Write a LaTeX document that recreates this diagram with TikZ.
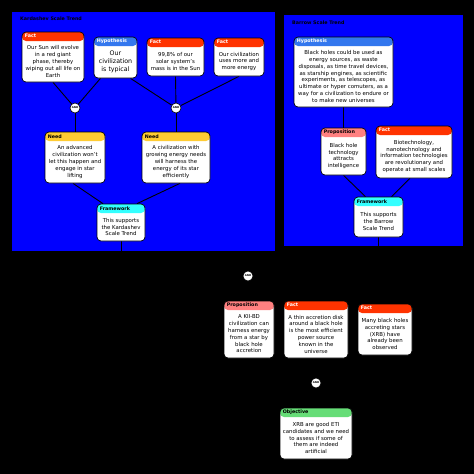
\documentclass[tikz,border=0pt]{standalone}
\usepackage{fontspec}
\setmainfont{DejaVu Sans}
\usepackage{xcolor}
\usepackage{tikz}
\pgfdeclarelayer{panels}
\pgfdeclarelayer{links}
\pgfsetlayers{panels,links,main}
\definecolor{panelblue}{RGB}{0,0,255}
\definecolor{factred}{RGB}{255,51,0}
\definecolor{hypblue}{RGB}{51,119,238}
\definecolor{needyellow}{RGB}{255,204,51}
\definecolor{framecyan}{RGB}{51,255,255}
\definecolor{proppink}{RGB}{255,128,128}
\definecolor{objgreen}{RGB}{102,221,119}
\tikzset{
card/.style = {rectangle, draw=black, fill=white, line width=0.7pt,
               rounded corners=4pt, inner sep=0pt},
headtext/.style = {anchor=west, inner sep=0pt,
                   font=\fontsize{4.8}{6}\selectfont\bfseries},
bodytext/.style = {align=center, inner sep=0pt,
                   font=\fontsize{5.4}{6.8}\selectfont},
andgate/.style = {circle, draw=black, fill=white, line width=0.6pt,
                  minimum size=10pt, inner sep=0pt,
                  font=\fontsize{2.6}{3}\selectfont\bfseries},
title/.style = {anchor=west, inner sep=0pt,
                font=\fontsize{4.8}{6}\selectfont\bfseries},
link/.style = {draw=black, line width=0.9pt}
}
% name, position, width, height, head colour, head text colour, head, body
\newcommand{\card}[8]{%
  \node[card, minimum width=#3pt, minimum height=#4pt,
        path picture={\fill[#5] (path picture bounding box.north west)
          rectangle ([yshift=-9pt]path picture bounding box.north east);}]
        (#1) at (#2) {};
  \node[headtext, text=#6] (#1-head) at ([xshift=3pt,yshift=-4.6pt]#1.north west) {#7};
  \node[bodytext] (#1-text) at ([yshift=-4.5pt]#1.center) {#8};
}

\begin{document}
\begin{tikzpicture}[x=1pt, y=-1pt]

% panels
\begin{pgfonlayer}{panels}
\fill[black] (0,0) rectangle (474,474);
\fill[panelblue] (12,12) rectangle (275,251);
\fill[panelblue] (284,15) rectangle (463,246);
\end{pgfonlayer}
\useasboundingbox (0,0) rectangle (474,474);
\node[title] (ktitle) at (20,19) {Kardashev Scale Trend};
\node[title] (btitle) at (292,23) {Barrow Scale Trend};

% Kardashev cards
\card{kfact1}{53,57}{62}{50}{factred}{white}{Fact}{Our Sun will evolve\\in a red giant\\phase, thereby\\wiping out all life on\\Earth}
\card{khyp}{115.5,57.5}{43}{41}{hypblue}{white}{Hypothesis}{}
\node[bodytext, font=\fontsize{6.3}{8}\selectfont] (khyp-big) at ([yshift=-4.5pt]khyp.center) {Our\\civilization\\is typical};
\card{kfact2}{175.5,57}{57}{38}{factred}{white}{Fact}{99,8\% of our\\solar system's\\mass is in the Sun}
\card{kfact3}{239,57}{50}{38}{factred}{white}{Fact}{Our civilization\\uses more and\\more energy}
\card{kneed1}{75,157.5}{60}{51}{needyellow}{black}{Need}{An advanced\\civilization won't\\let this happen and\\engage in star\\lifting}
\card{kneed2}{176,157.5}{68}{51}{needyellow}{black}{Need}{A civilization with\\growing energy needs\\will harness the\\energy of its star\\efficiently}
\card{kframe}{121,222.5}{48}{37}{framecyan}{black}{Framework}{This supports\\the Kardashev\\Scale Trend}

% Barrow cards
\card{bhyp}{343.5,72}{99}{70}{hypblue}{white}{Hypothesis}{Black holes could be used as\\energy sources, as waste\\disposals, as time travel devices,\\as starship engines, as scientific\\experiments, as telescopes, as\\ultimate or hyper comuters, as a\\way for a civilization to endure or\\to make new universes}
\card{bprop}{343.5,151.5}{45}{47}{proppink}{black}{Proposition}{Black hole\\technology\\attracts\\intelligence}
\card{bfact}{414,152}{76}{52}{factred}{white}{Fact}{Biotechnology,\\nanotechnology and\\information technologies\\are revolutionary and\\operate at small scales}
\card{bframe}{378.5,217}{49}{40}{framecyan}{black}{Framework}{This supports\\the Barrow\\Scale Trend}

% lower cards
\card{xprop}{249,329.5}{50}{57}{proppink}{black}{Proposition}{A KII-BD\\civilization can\\harness energy\\from a star by\\black hole\\accretion}
\card{xfact1}{316,329.5}{64}{57}{factred}{white}{Fact}{A thin accretion disk\\around a black hole\\is the most efficient\\power source\\known in the\\universe}
\card{xfact2}{385,329.5}{54}{51}{factred}{white}{Fact}{Many black holes\\accreting stars\\(XRB) have\\already been\\observed}
\card{xobj}{316,433.5}{72}{51}{objgreen}{black}{Objective}{XRB are good ETI\\candidates and we need\\to assess if some of\\them are indeed\\artificial}

% AND nodes
\node[andgate] (and1) at (75,108) {AND};
\node[andgate] (and2) at (176,108) {AND};
\node[andgate] (and3) at (248,276) {AND};
\node[andgate] (and4) at (316,383) {AND};

% links
\begin{pgfonlayer}{links}
\draw[link] (kfact1.south) -- (and1);
\draw[link] ([xshift=-15pt]khyp.south) -- (and1);
\draw[link] ([xshift=15pt]khyp.south) -- (and2);
\draw[link] (kfact2.south) -- (and2);
\draw[link] (kfact3.south) -- (and2);
\draw[link] (and1) -- (kneed1);
\draw[link] (and2) -- (kneed2);
\draw[link] ([xshift=-2pt]kneed1.south) -- ([xshift=-18pt]kframe.north);
\draw[link] ([xshift=4pt]kneed2.south) -- ([xshift=16pt]kframe.north);
\draw[link] (kframe) |- (and3);
\draw[link] (bhyp) -- (bprop);
\draw[link] (bprop.south) -- ([xshift=-13pt]bframe.north);
\draw[link] ([xshift=-4pt]bfact.south) -- ([xshift=13pt]bframe.north);
\draw[link] (bframe) |- (and3);
\draw[link] (and3) -- (xprop);
\draw[link] (and3) -- (xfact1);
\draw[link] (and3) -- (xfact2);
\draw[link] (xprop) -- (and4);
\draw[link] (xfact1) -- (and4);
\draw[link] (xfact2) -- (and4);
\draw[link] (and4) -- (xobj);
\end{pgfonlayer}

\end{tikzpicture}
\end{document}
